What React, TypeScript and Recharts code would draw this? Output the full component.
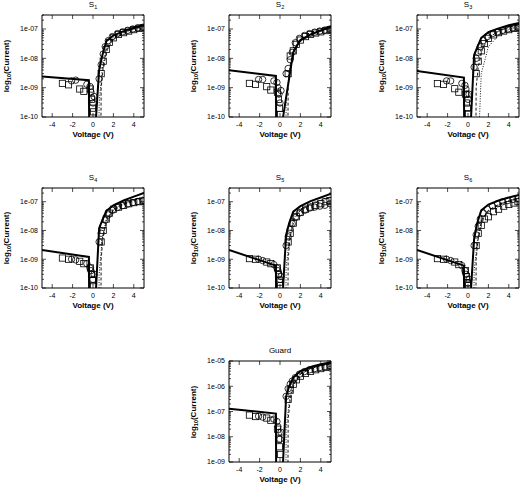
import React from "react"
import { ComposedChart, Line, Scatter, XAxis, YAxis, ReferenceArea } from "recharts"

// voltages shared by every panel
const voltTicks = [-4, -2, 0, 2, 4]
const solidV = [-5, -0.4, -0.35, 0.2, 0.3, 0.6, 0.9, 1.3, 2, 3, 4, 5]
const dashV = [0.75, 0.8, 1.0, 1.4, 2, 3, 4, 5]
const dotV = [0.55, 0.6, 0.9, 1.3, 2, 3, 4, 5]
const circleV = [-2.1, -1.7, -0.6, -0.3, -0.2, -0.1, 0, 0.1, 0.6, 0.8, 1.0, 1.2, 1.5, 1.9, 2.4, 2.9, 3.4, 3.9, 4.4, 4.9]
const squareV = [-3.0, -2.4, -1.3, -0.9, -0.25, -0.15, -0.05, 0.05, 0.8, 1.0, 1.3, 1.6, 2.0, 2.5, 3.0, 3.5, 4.0, 4.5, 4.9]

const sDomain = [1e-10, 3e-7]
const guardDomain = [1e-9, 1e-5]

// currents (A)
const s1Solid = [2.4e-9, 1.8e-9, 1e-12, 1e-12, 1e-10, 4e-9, 1.2e-8, 3.8e-8, 6e-8, 8.5e-8, 1.1e-7, 1.35e-7]
const s1Dash = [1e-12, 1e-9, 5e-9, 2e-8, 4.5e-8, 7.5e-8, 1e-7, 1.2e-7]
const s1Dot = [1e-12, 3e-10, 4e-9, 2.2e-8, 5e-8, 8e-8, 1.05e-7, 1.25e-7]
const s1Circ = [1.7e-9, 1.8e-9, 1.3e-9, 1.1e-9, 7e-10, 4.5e-10, 3e-10, 5e-10, 2e-9, 6e-9, 1.4e-8, 2.5e-8, 4e-8, 5.5e-8, 7e-8, 8e-8, 9e-8, 1e-7, 1.1e-7, 1.15e-7]
const s1Sq = [1.4e-9, 1.25e-9, 9e-10, 7.5e-10, 9e-10, 4e-10, 2e-10, 1.5e-10, 3e-9, 8e-9, 2e-8, 3.5e-8, 5e-8, 6.5e-8, 7.5e-8, 8.5e-8, 9.5e-8, 1.05e-7, 1.1e-7]

const s2Solid = [3.9e-9, 2.5e-9, 1e-12, 1e-12, 1e-10, 4.7e-10, 2.1e-9, 1.6e-8, 4.2e-8, 6.5e-8, 9e-8, 1.2e-7]
const s2Dash = [1e-12, 1e-9, 6e-9, 2.2e-8, 4.5e-8, 6.5e-8, 8.5e-8, 1.1e-7]
const s2Dot = [1e-12, 4e-10, 3e-9, 1.6e-8, 4e-8, 6.2e-8, 8.5e-8, 1.1e-7]
const s2Circ = [1.9e-9, 1.9e-9, 1.7e-9, 1.5e-9, 1e-9, 6e-10, 3e-10, 8e-10, 3e-9, 4.5e-9, 9e-9, 1.6e-8, 3.4e-8, 4.8e-8, 6e-8, 7e-8, 7.8e-8, 8.5e-8, 9.2e-8, 1e-7]
const s2Sq = [1.4e-9, 1.3e-9, 1.08e-9, 8.3e-10, 7e-10, 4e-10, 2e-10, 1.2e-10, 3e-9, 1.2e-8, 1.8e-8, 3e-8, 4.2e-8, 5.5e-8, 6.5e-8, 7.3e-8, 8e-8, 8.8e-8, 9.5e-8]

const s3Solid = [3.7e-9, 2.2e-9, 1e-12, 1e-12, 1e-10, 1.3e-8, 2.3e-8, 5e-8, 7.8e-8, 1.05e-7, 1.35e-7, 1.6e-7]
const s3Dash = [1e-12, 1e-9, 5e-9, 2e-8, 5e-8, 8.5e-8, 1.15e-7, 1.4e-7]
const s3Dot = [1e-12, 1e-12, 1e-12, 3e-9, 2.5e-8, 6e-8, 9.5e-8, 1.25e-7]
const s3Circ = [1.7e-9, 1.7e-9, 1.4e-9, 1.2e-9, 9e-10, 6e-10, 4e-10, 6e-10, 5e-9, 1e-8, 1.6e-8, 2.5e-8, 4e-8, 5.5e-8, 7e-8, 8e-8, 9e-8, 1e-7, 1.1e-7, 1.15e-7]
const s3Sq = [1.37e-9, 1.3e-9, 9.2e-10, 7e-10, 6e-10, 3e-10, 2e-10, 1.3e-10, 3e-9, 8e-9, 1.8e-8, 3.2e-8, 4.8e-8, 6.3e-8, 7.5e-8, 8.5e-8, 9.5e-8, 1.05e-7, 1.1e-7]

const s4Solid = [2.1e-9, 1.2e-9, 1e-12, 1e-12, 1e-10, 1.2e-8, 2.2e-8, 4.8e-8, 7.5e-8, 1.1e-7, 1.5e-7, 2e-7]
const s4Dash = [1e-12, 1e-9, 7e-9, 2.5e-8, 5e-8, 8e-8, 1.1e-7, 1.4e-7]
const s4Dot = [1e-12, 3e-10, 5e-9, 2.5e-8, 5.5e-8, 8.5e-8, 1.2e-7, 1.5e-7]
const s4Circ = [1e-9, 9.5e-10, 7e-10, 5e-10, 4e-10, 3e-10, 2e-10, 3e-10, 4e-9, 8e-9, 1.5e-8, 2.3e-8, 3.5e-8, 5e-8, 6.3e-8, 7.3e-8, 8.3e-8, 9.3e-8, 1.02e-7, 1.1e-7]
const s4Sq = [1.1e-9, 1e-9, 8.5e-10, 7e-10, 5e-10, 3e-10, 1.8e-10, 1.2e-10, 4e-9, 1e-8, 2.5e-8, 4e-8, 5.5e-8, 6.5e-8, 7.5e-8, 8.5e-8, 9.3e-8, 1e-7, 1.05e-7]

const s5Solid = [2.1e-9, 6e-10, 1e-12, 1e-12, 1e-10, 7e-9, 1.8e-8, 4.5e-8, 7e-8, 1.05e-7, 1.4e-7, 1.9e-7]
const s5Dash = [1e-12, 1e-9, 6e-9, 2.5e-8, 5e-8, 8e-8, 1.1e-7, 1.4e-7]
const s5Dot = [1e-12, 5e-10, 5e-9, 2.5e-8, 5.5e-8, 8.5e-8, 1.15e-7, 1.5e-7]
const s5Circ = [1e-9, 9e-10, 6.5e-10, 5e-10, 4e-10, 3e-10, 2e-10, 2.5e-10, 3e-9, 6e-9, 1.1e-8, 1.7e-8, 2.8e-8, 4e-8, 5e-8, 6e-8, 6.5e-8, 7e-8, 7.5e-8, 8.5e-8]
const s5Sq = [1.05e-9, 1e-9, 8e-10, 7e-10, 5e-10, 3e-10, 1.6e-10, 1.2e-10, 4e-9, 8e-9, 1.8e-8, 3e-8, 4.3e-8, 5.5e-8, 6.5e-8, 7.5e-8, 8.5e-8, 1e-7, 1.1e-7]

const s6Solid = [2.1e-9, 6e-10, 1e-12, 1e-12, 1e-10, 5e-9, 1.8e-8, 5e-8, 8e-8, 1.1e-7, 1.4e-7, 1.7e-7]
const s6Dash = [1e-12, 1e-9, 5e-9, 2.5e-8, 5e-8, 8e-8, 1.05e-7, 1.3e-7]
const s6Dot = [1e-12, 4e-10, 4e-9, 2.2e-8, 5e-8, 8e-8, 1.1e-7, 1.4e-7]
const s6Circ = [1e-9, 9e-10, 6e-10, 4e-10, 3e-10, 2e-10, 1.5e-10, 2e-10, 3e-9, 7e-9, 1.4e-8, 2.5e-8, 4e-8, 5.5e-8, 7e-8, 8.5e-8, 1e-7, 1.1e-7, 1.2e-7, 1.3e-7]
const s6Sq = [1.05e-9, 1e-9, 8e-10, 6.5e-10, 4e-10, 2.5e-10, 1.5e-10, 1.2e-10, 3e-9, 8e-9, 1.5e-8, 2.5e-8, 3e-8, 4.5e-8, 5.5e-8, 7e-8, 8e-8, 9e-8, 1e-7]

const guardSolid = [1.3e-7, 8.3e-8, 1e-12, 1e-12, 1e-9, 4e-7, 1e-6, 2.2e-6, 4e-6, 5.8e-6, 7.5e-6, 9e-6]
const guardDash = [1e-12, 5e-8, 3e-7, 1.3e-6, 3e-6, 5e-6, 6.5e-6, 8e-6]
const guardDot = [1e-12, 2e-8, 2.5e-7, 1.2e-6, 3.2e-6, 5.2e-6, 7e-6, 8.5e-6]
const guardCirc = [6.5e-8, 6e-8, 5e-8, 4e-8, 2.5e-8, 1.5e-8, 8e-9, 1.5e-8, 4e-7, 8e-7, 1.2e-6, 1.6e-6, 2.2e-6, 3e-6, 3.8e-6, 4.5e-6, 5e-6, 5.5e-6, 6e-6, 6.5e-6]
const guardSq = [7.2e-8, 6.3e-8, 5.5e-8, 4.5e-8, 2e-8, 8e-9, 4e-9, 2e-9, 3e-7, 7e-7, 1.2e-6, 1.8e-6, 2.5e-6, 3.2e-6, 3.9e-6, 4.5e-6, 5e-6, 5.5e-6, 6e-6]

const FONT = '"Liberation Sans", Arial, Helvetica, sans-serif'
const YW = 40
const MT = 3
const MR = 1
const XH = 16
const BW = 102

const zip = (xs: number[], ys: number[]) => xs.map((x, i) => ({ x, y: ys[i] }))

const logTicks = (lo: number, hi: number) => {
  const out: number[] = []
  for (let e = Math.floor(Math.log10(lo)); e <= Math.ceil(Math.log10(hi)); e++) {
    for (let m = 1; m <= 9; m++) {
      const v = m * Math.pow(10, e)
      if (v >= lo * 0.999 && v <= hi * 1.001) out.push(v)
    }
  }
  return out
}

const isDecade = (v: number) => {
  const lg = Math.log10(v)
  return Math.abs(lg - Math.round(lg)) < 1e-6
}

const fmtExp = (v: number) => {
  const e = Math.round(Math.log10(v))
  return `1e${e < 0 ? "-" : "+"}${String(Math.abs(e)).padStart(2, "0")}`
}

type PanelDef = {
  key: string
  name: string
  sub?: string
  bx: number
  by: number
  bh: number
  domain: number[]
  solid: number[]
  dash: number[]
  dot: number[]
  circles: number[]
  squares: number[]
}

const panels: PanelDef[] = [
  { key: "s1", name: "S", sub: "1", bx: 42, by: 15, bh: 102, domain: sDomain, solid: s1Solid, dash: s1Dash, dot: s1Dot, circles: s1Circ, squares: s1Sq },
  { key: "s2", name: "S", sub: "2", bx: 229, by: 15, bh: 102, domain: sDomain, solid: s2Solid, dash: s2Dash, dot: s2Dot, circles: s2Circ, squares: s2Sq },
  { key: "s3", name: "S", sub: "3", bx: 417, by: 15, bh: 102, domain: sDomain, solid: s3Solid, dash: s3Dash, dot: s3Dot, circles: s3Circ, squares: s3Sq },
  { key: "s4", name: "S", sub: "4", bx: 42, by: 188, bh: 100, domain: sDomain, solid: s4Solid, dash: s4Dash, dot: s4Dot, circles: s4Circ, squares: s4Sq },
  { key: "s5", name: "S", sub: "5", bx: 229, by: 188, bh: 100, domain: sDomain, solid: s5Solid, dash: s5Dash, dot: s5Dot, circles: s5Circ, squares: s5Sq },
  { key: "s6", name: "S", sub: "6", bx: 417, by: 188, bh: 100, domain: sDomain, solid: s6Solid, dash: s6Dash, dot: s6Dot, circles: s6Circ, squares: s6Sq },
  { key: "guard", name: "Guard", bx: 229, by: 361, bh: 101, domain: guardDomain, solid: guardSolid, dash: guardDash, dot: guardDot, circles: guardCirc, squares: guardSq },
]

const circleShape = (props: any) => (
  <circle cx={props.cx} cy={props.cy} r={3.2} fill="none" stroke="#000" strokeWidth={0.8} />
)
const squareShape = (props: any) => (
  <rect x={props.cx - 3.1} y={props.cy - 3.1} width={6.2} height={6.2} fill="none" stroke="#000" strokeWidth={0.8} />
)

function Panel({ p }: { p: PanelDef }) {
  const { bx, by, bh } = p
  const yTicks = logTicks(p.domain[0], p.domain[1])

  const yTick = (props: any) => {
    const { x, y, payload } = props
    const major = isDecade(payload.value)
    const len = major ? 4 : 2
    return (
      <g>
        <line x1={x} y1={y} x2={x + len} y2={y} stroke="#000" strokeWidth={0.7} />
        <line x1={x + BW - len} y1={y} x2={x + BW} y2={y} stroke="#000" strokeWidth={0.7} />
        {major && (
          <text x={x - 4} y={y} dy="0.35em" textAnchor="end" fontSize={7} fontFamily={FONT} fill="#000">
            {fmtExp(payload.value)}
          </text>
        )}
      </g>
    )
  }

  const xTick = (props: any) => {
    const { x, y, payload } = props
    return (
      <g>
        <line x1={x} y1={y} x2={x} y2={y - 4} stroke="#000" strokeWidth={0.7} />
        <line x1={x} y1={y - bh} x2={x} y2={y - bh + 4} stroke="#000" strokeWidth={0.7} />
        <text x={x} y={y + 8} dy="0.35em" textAnchor="middle" fontSize={7} fontFamily={FONT} fill="#000">
          {payload.value}
        </text>
      </g>
    )
  }

  return (
    <>
      <div style={{ position: "absolute", left: bx - YW, top: by - MT }}>
        <ComposedChart
          width={YW + BW + MR}
          height={MT + bh + XH}
          margin={{ top: MT, right: MR, bottom: 0, left: 0 }}
        >
          <XAxis
            dataKey="x"
            type="number"
            domain={[-5, 5]}
            ticks={voltTicks}
            allowDataOverflow
            interval={0}
            height={XH}
            tickSize={0}
            tickMargin={0}
            tickLine={false}
            axisLine={false}
            tick={xTick}
          />
          <YAxis
            dataKey="y"
            type="number"
            scale="log"
            domain={p.domain}
            ticks={yTicks}
            allowDataOverflow
            interval={0}
            width={YW}
            tickSize={0}
            tickMargin={0}
            tickLine={false}
            axisLine={false}
            tick={yTick}
          />
          <Line data={zip(dotV, p.dot)} dataKey="y" stroke="#000" strokeWidth={0.9} strokeDasharray="1 1.5" dot={false} isAnimationActive={false} />
          <Line data={zip(dashV, p.dash)} dataKey="y" stroke="#000" strokeWidth={0.9} strokeDasharray="3 2" dot={false} isAnimationActive={false} />
          <Scatter data={zip(squareV, p.squares)} shape={squareShape} isAnimationActive={false} />
          <Scatter data={zip(circleV, p.circles)} shape={circleShape} isAnimationActive={false} />
          <Line data={zip(solidV, p.solid)} dataKey="y" stroke="#000" strokeWidth={2} dot={false} isAnimationActive={false} />
          <ReferenceArea
            x1={-5}
            x2={5}
            y1={p.domain[0]}
            y2={p.domain[1]}
            fill="none"
            fillOpacity={0}
            stroke="#000"
            strokeWidth={1}
            strokeOpacity={1}
            ifOverflow="visible"
          />
        </ComposedChart>
      </div>
      <div
        style={{
          position: "absolute",
          left: bx + BW / 2,
          top: by - 10,
          transform: "translate(-50%, -50%)",
          fontFamily: FONT,
          fontSize: 8,
          lineHeight: 1,
          whiteSpace: "nowrap",
        }}
      >
        {p.name}
        {p.sub && <span style={{ fontSize: 5.5, position: "relative", top: 2 }}>{p.sub}</span>}
      </div>
      <div
        style={{
          position: "absolute",
          left: bx + BW / 2,
          top: by + bh + 18,
          transform: "translate(-50%, -50%)",
          fontFamily: FONT,
          fontSize: 8,
          fontWeight: "bold",
          lineHeight: 1,
          whiteSpace: "nowrap",
        }}
      >
        Voltage (V)
      </div>
      <div
        style={{
          position: "absolute",
          left: bx - 35,
          top: by + bh / 2,
          transform: "translate(-50%, -50%) rotate(-90deg)",
          fontFamily: FONT,
          fontSize: 8,
          fontWeight: "bold",
          lineHeight: 1,
          whiteSpace: "nowrap",
        }}
      >
        log<span style={{ fontSize: 5.5, position: "relative", top: 2 }}>10</span>(Current)
      </div>
    </>
  )
}

export default function App() {
  return (
    <div
      style={{
        position: "absolute",
        left: 0,
        top: 0,
        width: 520,
        height: 484,
        overflow: "hidden",
        background: "#fff",
        color: "#000",
      }}
    >
      {panels.map((p) => (
        <Panel key={p.key} p={p} />
      ))}
    </div>
  )
}
